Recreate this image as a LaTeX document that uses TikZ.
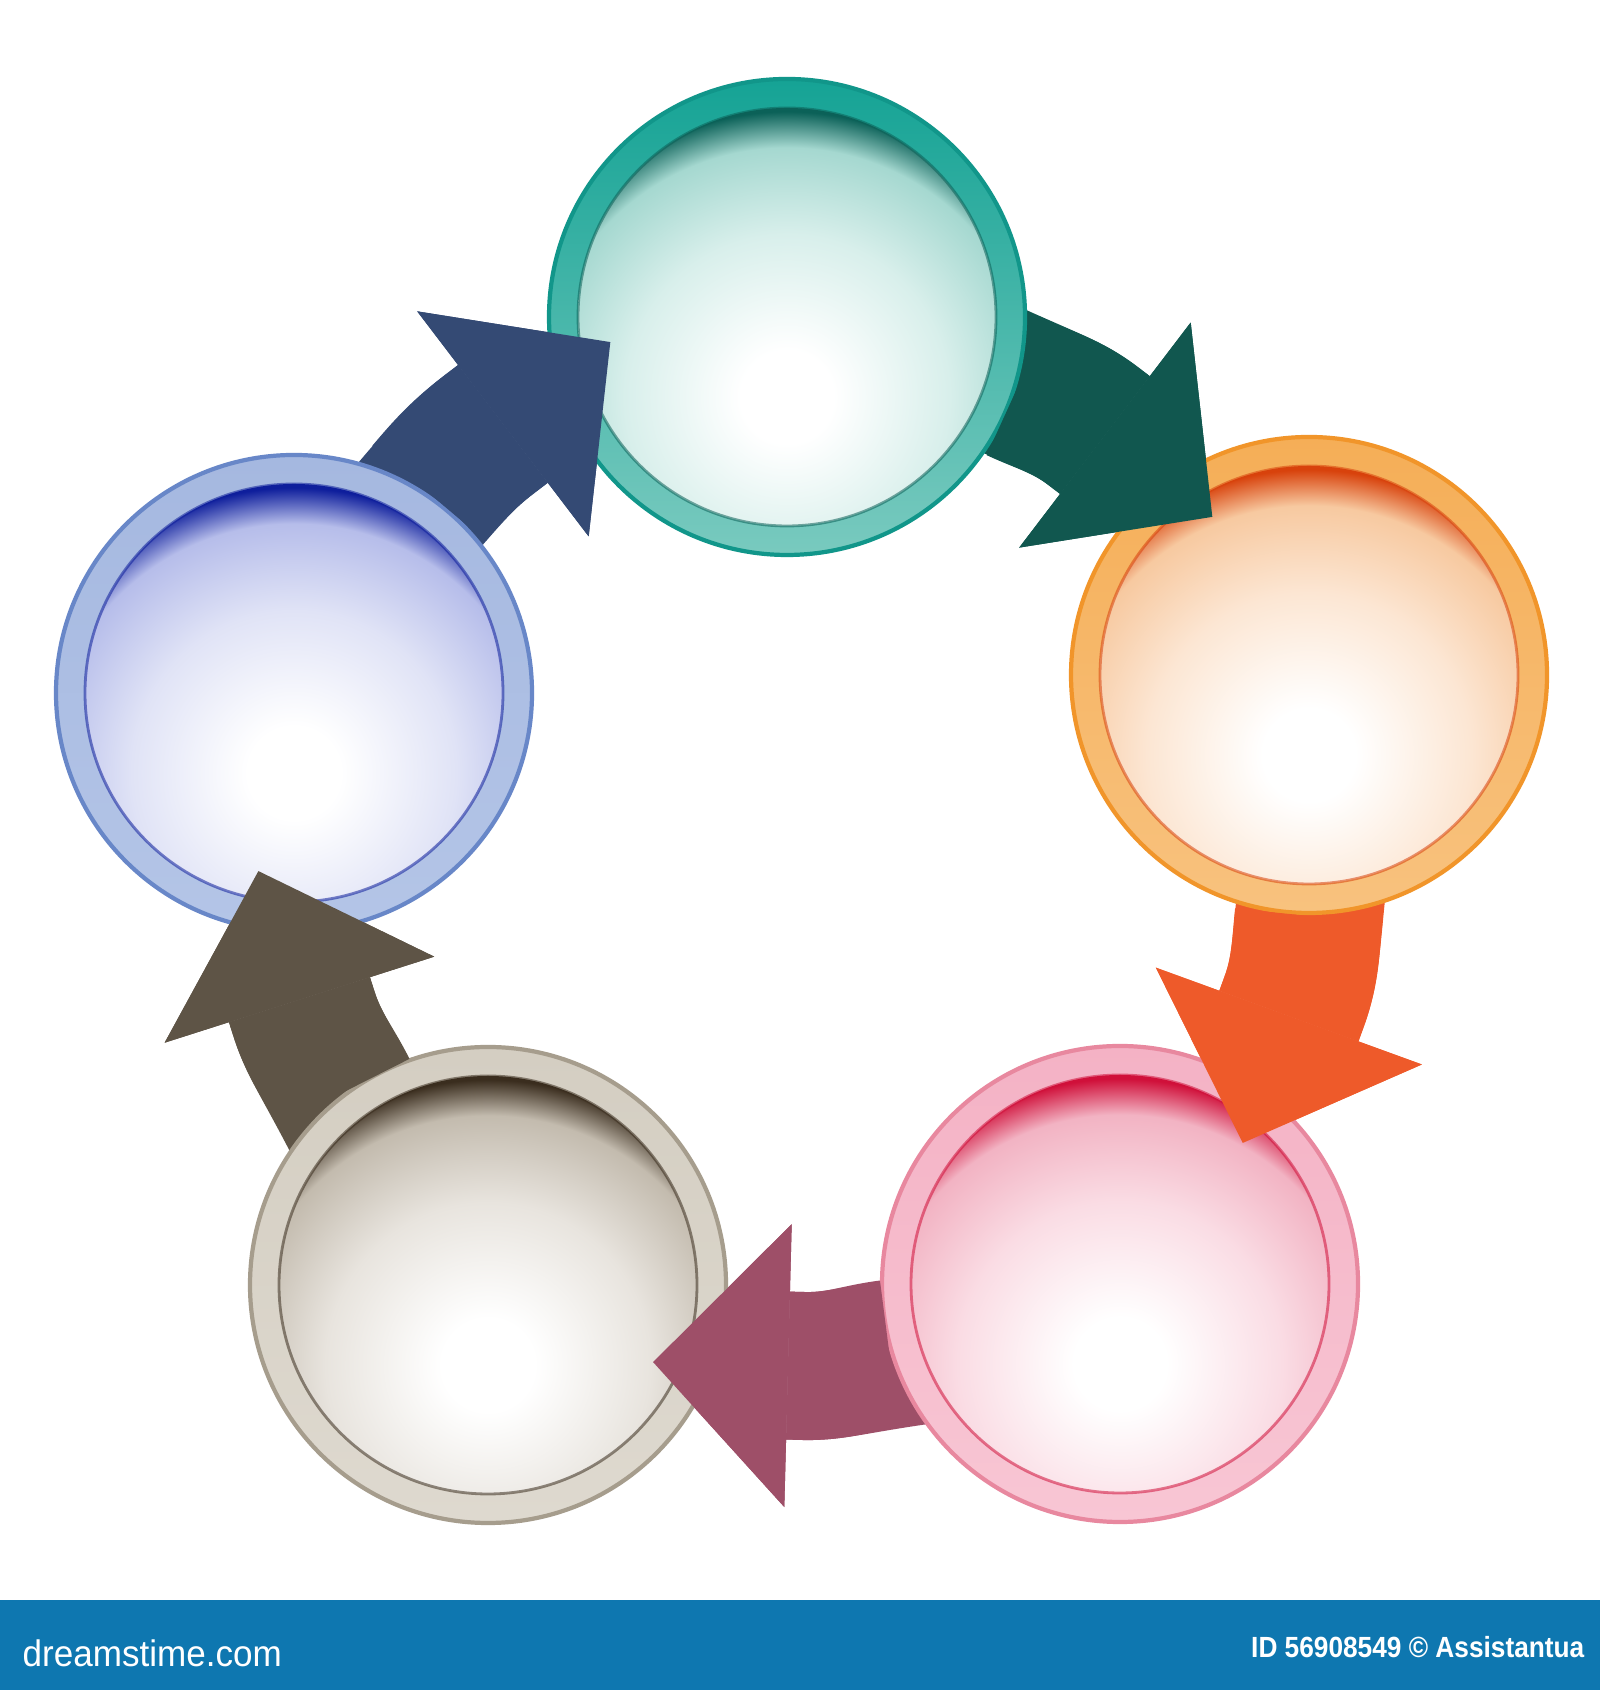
\documentclass[tikz,border=0pt]{standalone}
\usepackage{fontspec}
\setmainfont{Liberation Sans}
\usetikzlibrary{arrows.meta,calc}

\definecolor{tealRing}{HTML}{15A395}
\definecolor{tealRingB}{HTML}{79CABF}
\definecolor{tealLine}{HTML}{11968A}
\definecolor{tealDeep}{HTML}{0B6158}
\definecolor{tealMid}{HTML}{A5D8D0}
\definecolor{tealLight}{HTML}{D8EFEB}
\definecolor{tealArrow}{HTML}{11574F}

\definecolor{orangeRing}{HTML}{F5AE57}
\definecolor{orangeRingB}{HTML}{F8C27E}
\definecolor{orangeLine}{HTML}{F1952A}
\definecolor{orangeDeep}{HTML}{D8420C}
\definecolor{orangeMid}{HTML}{F7C9A0}
\definecolor{orangeLight}{HTML}{FCE6D3}
\definecolor{orangeArrow}{HTML}{EE5A2A}

\definecolor{pinkRing}{HTML}{F4B2C5}
\definecolor{pinkRingB}{HTML}{F8C6D4}
\definecolor{pinkLine}{HTML}{E8889F}
\definecolor{pinkDeep}{HTML}{D0103A}
\definecolor{pinkMid}{HTML}{F2B3C3}
\definecolor{pinkLight}{HTML}{FADCE4}
\definecolor{pinkArrow}{HTML}{9E4F68}

\definecolor{grayRing}{HTML}{D4CEC2}
\definecolor{grayRingB}{HTML}{DED9CF}
\definecolor{grayLine}{HTML}{A69D8D}
\definecolor{grayDeep}{HTML}{3A2D1E}
\definecolor{grayMid}{HTML}{C3BBAE}
\definecolor{grayLight}{HTML}{E8E4DE}
\definecolor{grayArrow}{HTML}{5E5446}

\definecolor{blueRing}{HTML}{A5B8E0}
\definecolor{blueRingB}{HTML}{B4C5E7}
\definecolor{blueLine}{HTML}{6887C8}
\definecolor{blueDeep}{HTML}{0E1E9C}
\definecolor{blueMid}{HTML}{B6BDEA}
\definecolor{blueLight}{HTML}{E0E3F6}
\definecolor{blueArrow}{HTML}{344A74}

\definecolor{barBlue}{HTML}{0E77B0}

\pgfdeclareradialshading{tealDisk}{\pgfpointorigin}{color(0bp)=(white);color(4bp)=(white);color(14bp)=(tealLight);color(21.5bp)=(tealMid);color(24.6bp)=(tealDeep);color(50bp)=(tealDeep)}
\pgfdeclareradialshading{orangeDisk}{\pgfpointorigin}{color(0bp)=(white);color(4bp)=(white);color(14bp)=(orangeLight);color(21.5bp)=(orangeMid);color(24.6bp)=(orangeDeep);color(50bp)=(orangeDeep)}
\pgfdeclareradialshading{pinkDisk}{\pgfpointorigin}{color(0bp)=(white);color(4bp)=(white);color(14bp)=(pinkLight);color(21.5bp)=(pinkMid);color(24.6bp)=(pinkDeep);color(50bp)=(pinkDeep)}
\pgfdeclareradialshading{grayDisk}{\pgfpointorigin}{color(0bp)=(white);color(4bp)=(white);color(14bp)=(grayLight);color(21.5bp)=(grayMid);color(24.6bp)=(grayDeep);color(50bp)=(grayDeep)}
\pgfdeclareradialshading{blueDisk}{\pgfpointorigin}{color(0bp)=(white);color(4bp)=(white);color(14bp)=(blueLight);color(21.5bp)=(blueMid);color(24.6bp)=(blueDeep);color(50bp)=(blueDeep)}

\pgfdeclarelayer{back}
\pgfsetlayers{back,main}

\begin{document}
\begin{tikzpicture}[line cap=round,line join=round,x=1cm,y=1cm,
disc/.style={circle,minimum size=4.76cm,inner sep=0pt,outer sep=0pt,line width=1.2pt,draw=#1Line,top color=#1Ring,bottom color=#1RingB,
path picture={\begin{scope}\clip (path picture bounding box.center) circle (2.09cm);
\shade[shading=#1Disk] ([yshift=-0.8cm]path picture bounding box.center) circle (2.9cm);\end{scope}
\draw[#1Deep,line width=0.8pt,opacity=0.55] (path picture bounding box.center) circle (2.09cm);}},
flow/.style={line width=1.48cm,line cap=butt,line join=miter,draw=#1,-{Triangle[width=2.83cm,length=1.35cm,line width=0pt]}}]
\clip(0,0) rectangle (16,16.9);
\node[disc=teal] (teal) at (7.87,13.73) {};
\node[disc=orange] (orange) at (13.09,10.15) {};
\node[disc=pink] (pink) at (11.20,4.06) {};
\node[disc=gray] (gray) at (4.88,4.05) {};
\node[disc=blue] (blue) at (2.94,9.97) {};
\begin{pgfonlayer}{back}
\fill[white] (0,0) rectangle (16,16.9);
\draw[flow=blueArrow,shorten <=-0.6cm] (blue.56) to[out=50,in=217.3] ($(teal)+(-2.96,-1.16)$) -- ++(37.3:1.5);
\draw[flow=tealArrow,shorten <=-0.6cm] (teal.-17) to[out=-25,in=142.7] ($(orange)+(-2.16,2.49)$) -- ++(-37.3:1.5);
\draw[flow=orangeArrow,shorten <=-0.6cm] (orange.-90) to[out=-96,in=70] ($(pink)+(1.74,2.82)$) -- ++(-110:1.5);
\draw[flow=pinkArrow,shorten <=-0.6cm] (pink.197) to[out=187,in=-1.5] ($(gray)+(3.15,-0.81)$) -- ++(178.5:1.5);
\draw[flow=grayArrow,shorten <=-0.6cm] (gray.127) to[out=116.5,in=-72.3] ($(blue)+(0.10,-3.21)$) -- ++(107.7:1.5);
\end{pgfonlayer}
\draw[flow=blueArrow,shorten <=0.03cm] (blue.56) to[out=50,in=217.3] ($(teal)+(-2.96,-1.16)$) -- ++(37.3:1.5);
\draw[flow=tealArrow,shorten <=0.03cm] (teal.-17) to[out=-25,in=142.7] ($(orange)+(-2.16,2.49)$) -- ++(-37.3:1.5);
\draw[flow=orangeArrow,shorten <=0.03cm] (orange.-90) to[out=-96,in=70] ($(pink)+(1.74,2.82)$) -- ++(-110:1.5);
\draw[flow=pinkArrow,shorten <=0.03cm] (pink.197) to[out=187,in=-1.5] ($(gray)+(3.15,-0.81)$) -- ++(178.5:1.5);
\draw[flow=grayArrow,shorten <=0.03cm] (gray.127) to[out=116.5,in=-72.3] ($(blue)+(0.10,-3.21)$) -- ++(107.7:1.5);
\fill[barBlue] (0,0) rectangle (16,0.9);
\node[anchor=base west,text=white,inner sep=0pt] (logo) at (0.22,0.24) {\fontsize{10.5pt}{12pt}\selectfont\scalebox{0.95}[1]{dreamstime.com}};
\node[anchor=base east,text=white,inner sep=0pt] (credit) at (15.85,0.33) {\fontsize{8.3pt}{10pt}\selectfont\bfseries\scalebox{0.9}[1]{ID 56908549 © Assistantua}};
\end{tikzpicture}
\end{document}
